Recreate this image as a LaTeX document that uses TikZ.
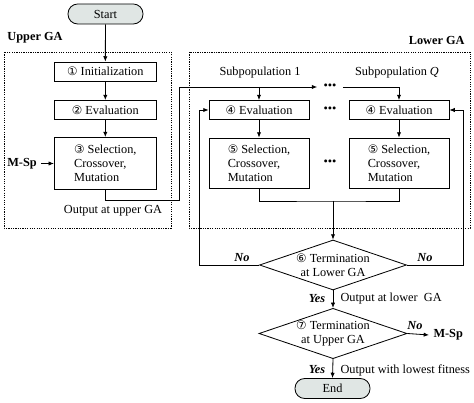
\documentclass[tikz,border=0pt]{standalone}
\usepackage{fontspec}
\setmainfont{Liberation Serif}[Scale=1.05]
\newfontfamily\circfont{DejaVu Sans}
\usetikzlibrary{positioning,shapes.geometric,arrows.meta}
\definecolor{termgray}{RGB}{224,230,228}
\newcommand{\cn}[1]{{\circfont\fontsize{10}{10}\selectfont #1}}
\tikzset{
  proc/.style={rectangle,draw,minimum width=3.06cm,minimum height=0.57cm,inner sep=1pt},
  term/.style={rectangle,draw,rounded corners=0.29cm,fill=termgray,minimum width=2.25cm,minimum height=0.6cm},
  decide/.style={diamond,draw,aspect=2.94,minimum width=4.41cm,minimum height=1.5cm,inner sep=0pt,align=center},
  gabox/.style={draw,dash pattern=on 1pt off 1pt},
  arr/.style={-{Latex[length=1.6mm,width=1.3mm]}},
  dots/.style={inner xsep=0.18cm,inner ysep=0pt},
  lbl/.style={font=\bfseries\itshape}
}

\begin{document}
\begin{tikzpicture}[x=0.03cm,y=-0.03cm,line width=0.7pt]
  \useasboundingbox (0,0) rectangle (474,403);
  % upper GA
  \draw[gabox] (4,52) rectangle (171,228);
  \node[font=\bfseries] (upperlbl) at (35,38) {Upper GA};
  \node[term] (start) at (105.5,14) {Start};
  \node[proc] (init) at (105.3,71.5) {\cn{①} Initialization};
  \node[proc] (eval) at (105.3,110) {\cn{②} Evaluation};
  \node[proc,minimum height=1.56cm,align=left] (sel) at (105.3,163.5) {\cn{③} Selection,\\Crossover,\\Mutation};
  \node[font=\bfseries] (msp) at (22,163.5) {M-Sp};
  \node (outup) at (113,211) {Output at upper GA};
  % lower GA
  \draw[gabox] (189,52) rectangle (470,228);
  \node[font=\bfseries,anchor=east] (lowerlbl) at (469,40) {Lower GA};
  \node (sub1) at (260,73) {Subpopulation 1};
  \node (subq) at (397,73) {Subpopulation \textit{Q}};
  \node[proc,minimum width=3cm] (eval1) at (259,110) {\cn{④} Evaluation};
  \node[proc,minimum width=3cm] (evalq) at (399,110) {\cn{④} Evaluation};
  \node[proc,minimum width=3cm,minimum height=1.5cm,align=left] (sel1) at (259,163) {\cn{⑤} Selection,\\Crossover,\\Mutation};
  \node[proc,minimum width=3cm,minimum height=1.5cm,align=left] (selq) at (399,163) {\cn{⑤} Selection,\\Crossover,\\Mutation};
  \node[dots] (dtop) at (330,87) {\textbullet\textbullet\textbullet};
  \node[dots] (dmid) at (330,110) {\textbullet\textbullet\textbullet};
  \node[dots] (dbot) at (330,163) {\textbullet\textbullet\textbullet};
  \coordinate (outbend) at (179,200);
  \coordinate (merge) at (333,201);
  \coordinate (fbL) at (199,110);
  \coordinate (fbR) at (463,110);
  % decisions
  \node[decide] (term6) at (333,265) {\cn{⑥} Termination\\at Lower GA};
  \node[decide] (term7) at (333,333.5) {\cn{⑦} Termination\\at Upper GA};
  \node[term] (end) at (332.5,388.5) {End};
  \node[font=\bfseries,anchor=west] (msp2) at (429,335) {M-Sp};

  \draw[arr] (start) -- (init);
  \draw[arr] (init) -- (eval);
  \draw[arr] (eval) -- (sel);
  \draw[arr] (msp) -- (sel);
  \draw[arr] (sel.south) |- (outbend) |- (dtop.west);
  \draw[arr] (eval1.north |- dtop) -- (eval1);
  \draw[arr] (dtop.east) -| (evalq.north);
  \draw[arr] (eval1) -- (sel1);
  \draw[arr] (evalq) -- (selq);
  \draw (sel1.south) |- (merge) -| (selq.south);
  \draw[arr] (merge) -- (term6.north);
  \draw[arr] (term6.west) -| (fbL) -- (eval1.west);
  \draw[arr] (term6.east) -| (fbR) -- (evalq.east);
  \node[lbl] (no1) at (242,258) {No};
  \node[lbl] (no2) at (425,258) {No};
  \draw[arr] (term6.south) -- (term7.north);
  \node[lbl] (yes1) at (317,299) {Yes};
  \node[anchor=west] (outlow) at (336,299) {Output at lower\ \ GA};
  \draw[arr] (term7.east) -- (msp2.west);
  \node[lbl] (no3) at (415,326) {No};
  \draw[arr] (term7.south) -- (end.north);
  \node[lbl] (yes2) at (317,370) {Yes};
  \node[anchor=west] (outfit) at (336,370) {Output with lowest fitness};
\end{tikzpicture}
\end{document}
